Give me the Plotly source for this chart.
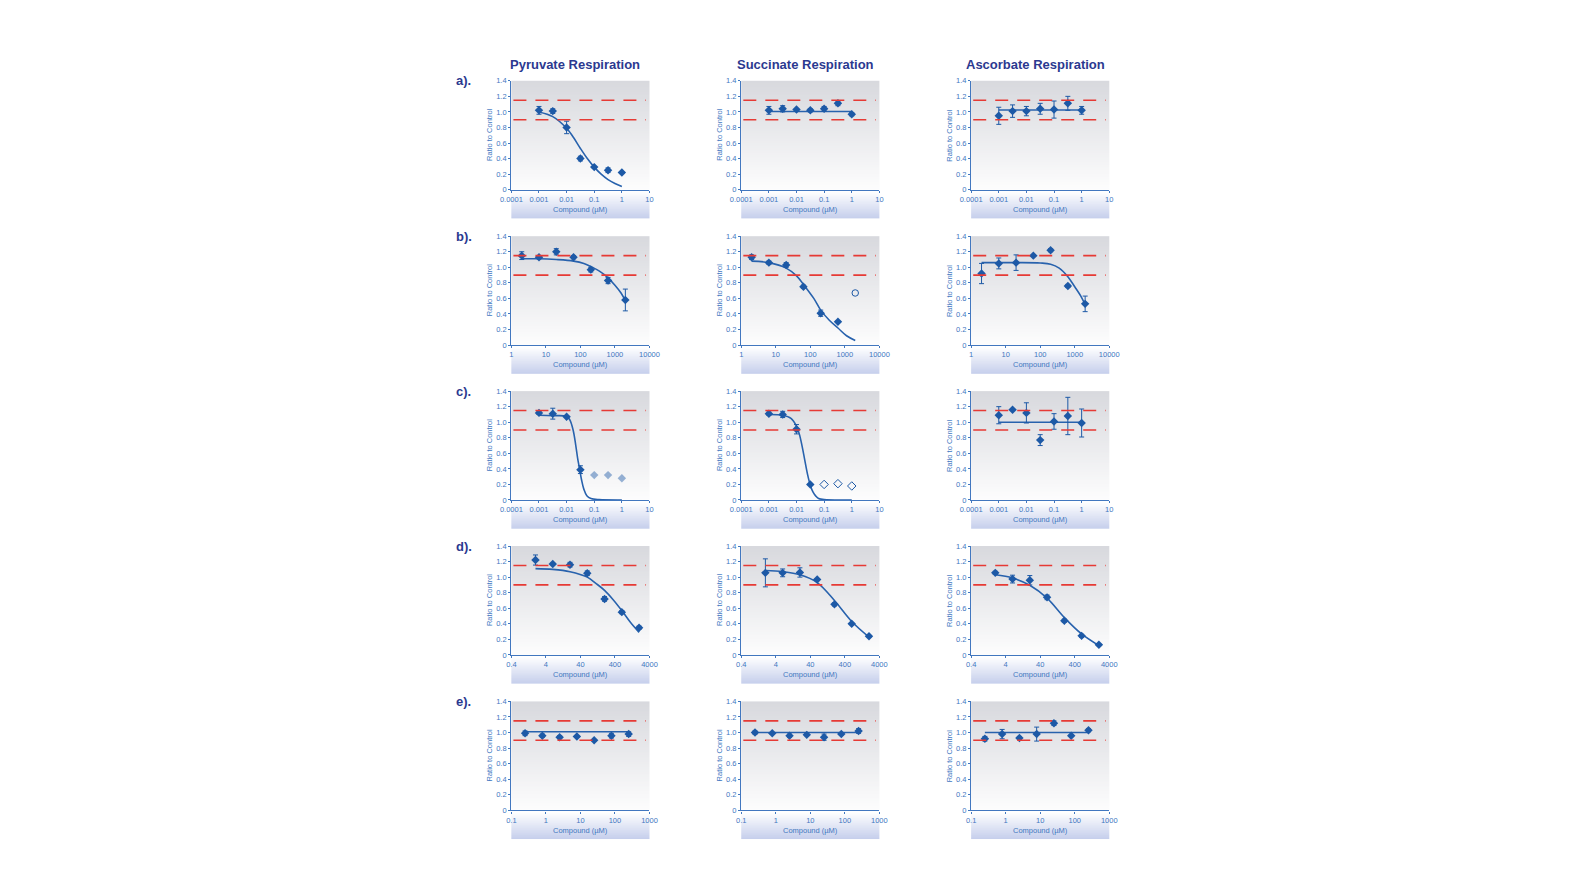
import base64
import math
import struct
import zlib

import plotly.graph_objects as go
from plotly.subplots import make_subplots

W, H = 1576, 887
OFF = 8  # page body margin around the plot div

# ---- concentrations (uM) ----
conc_a = [0.001, 0.00316, 0.01, 0.0316, 0.1, 0.316, 1]
conc_b = [2, 6.32, 20, 63.2, 200, 632, 2000]
conc_e = [0.25, 0.79, 2.5, 7.9, 25, 79, 250]

thresholds = [1.15, 0.9]

# ---- row a ----
pyr_a_y = [1.02, 1.01, 0.80, 0.40, 0.29, 0.25, 0.22]
pyr_a_err = [0.05, 0.03, 0.08, 0.03, 0.01, 0.03, 0.01]
pyr_a_fit_x = [0.001, 0.00316, 0.01, 0.0178, 0.0316, 0.0562, 0.1, 0.178, 0.316, 0.562, 1]
pyr_a_fit_y = [1.00, 0.94, 0.79, 0.67, 0.53, 0.40, 0.29, 0.20, 0.13, 0.08, 0.04]

suc_a_y = [1.02, 1.04, 1.03, 1.02, 1.04, 1.11, 0.97]
suc_a_err = [0.05, 0.04, 0.01, 0.02, 0.03, 0.03, 0.02]
suc_a_fit_x = [0.001, 1]
suc_a_fit_y = [1.005, 1.005]

asc_a_y = [0.95, 1.01, 1.01, 1.04, 1.03, 1.11, 1.02]
asc_a_err = [0.11, 0.08, 0.06, 0.07, 0.11, 0.09, 0.05]
asc_a_fit_x = [0.001, 1]
asc_a_fit_y = [1.025, 1.025]

# ---- row b ----
pyr_b_y = [1.15, 1.13, 1.20, 1.13, 0.97, 0.83, 0.58]
pyr_b_err = [0.05, 0.02, 0.04, 0.02, 0.03, 0.04, 0.14]
pyr_b_fit_x = [2, 6.32, 20, 63.2, 126, 200, 355, 632, 1000, 1500, 2000]
pyr_b_fit_y = [1.11, 1.11, 1.10, 1.08, 1.05, 1.01, 0.95, 0.865, 0.77, 0.67, 0.57]

suc_b_y = [1.13, 1.06, 1.03, 0.75, 0.41, 0.30]
suc_b_err = [0.03, 0.02, 0.03, 0.02, 0.04, 0.01]
suc_b_open_x = [2000]
suc_b_open_y = [0.67]
suc_b_fit_x = [2, 6.32, 20, 40, 63.2, 126, 200, 355, 632, 1120, 2000]
suc_b_fit_y = [1.08, 1.06, 0.99, 0.89, 0.78, 0.60, 0.45, 0.32, 0.22, 0.12, 0.06]

asc_b_y = [0.92, 1.05, 1.06, 1.15, 1.22, 0.76, 0.53]
asc_b_err = [0.13, 0.07, 0.10, 0.01, 0.02, 0.02, 0.10]
asc_b_fit_x = [2, 20, 100, 200, 355, 632, 1000, 1500, 2000]
asc_b_fit_y = [1.06, 1.06, 1.055, 1.04, 0.99, 0.88, 0.75, 0.63, 0.52]

# ---- row c ----
pyr_c_y = [1.12, 1.11, 1.07, 0.39]
pyr_c_err = [0.02, 0.07, 0.01, 0.05]
pyr_c_open_x = [0.1, 0.316, 1]
pyr_c_open_y = [0.32, 0.32, 0.28]
pyr_c_fit_x = [0.001, 0.00316, 0.01, 0.0131, 0.0172, 0.0213, 0.025, 0.0295,
               0.0347, 0.042, 0.054, 0.076, 0.15, 1]
pyr_c_fit_y = [1.09, 1.085, 1.075, 1.03, 0.90, 0.71, 0.54, 0.40,
               0.26, 0.14, 0.055, 0.02, 0.005, 0.0]

suc_c_y = [1.11, 1.10, 0.91, 0.20]
suc_c_err = [0.02, 0.04, 0.06, 0.01]
suc_c_open_x = [0.1, 0.316, 1]
suc_c_open_y = [0.20, 0.21, 0.18]
suc_c_fit_x = [0.001, 0.00316, 0.00631, 0.01, 0.0126, 0.0158, 0.02, 0.0251,
               0.0316, 0.0398, 0.0501, 0.0631, 0.1, 1]
suc_c_fit_y = [1.10, 1.09, 1.05, 0.95, 0.85, 0.70, 0.51, 0.33,
               0.19, 0.10, 0.05, 0.02, 0.005, 0.0]

asc_c_y = [1.09, 1.16, 1.12, 0.77, 1.01, 1.08, 0.99]
asc_c_err = [0.11, 0.01, 0.13, 0.07, 0.10, 0.24, 0.18]
asc_c_fit_x = [0.001, 1]
asc_c_fit_y = [1.0, 1.0]

# ---- row d ----
pyr_d_y = [1.22, 1.17, 1.16, 1.05, 0.72, 0.55, 0.35]
pyr_d_err = [0.065, 0.01, 0.03, 0.03, 0.03, 0.02, 0.02]
pyr_d_fit_x = [2, 6.32, 20, 63.2, 112, 200, 355, 632, 1120, 2000]
pyr_d_fit_y = [1.11, 1.10, 1.07, 1.00, 0.92, 0.83, 0.71, 0.57, 0.42, 0.29]

suc_d_y = [1.055, 1.055, 1.06, 0.97, 0.65, 0.40, 0.24]
suc_d_err = [0.18, 0.05, 0.06, 0.01, 0.02, 0.01, 0.01]
suc_d_fit_x = [2, 6.32, 20, 63.2, 200, 632, 2000]
suc_d_fit_y = [1.085, 1.07, 1.03, 0.93, 0.70, 0.43, 0.23]

asc_d_y = [1.055, 0.975, 0.96, 0.74, 0.44, 0.245, 0.13]
asc_d_err = [0.02, 0.05, 0.06, 0.03, 0.02, 0.02, 0.01]
asc_d_fit_x = [2, 6.32, 20, 63.2, 200, 632, 2000]
asc_d_fit_y = [1.03, 0.99, 0.895, 0.73, 0.48, 0.27, 0.12]

# ---- row e ----
pyr_e_y = [0.99, 0.96, 0.94, 0.95, 0.90, 0.96, 0.98]
pyr_e_err = [0.03, 0.02, 0.02, 0.01, 0.01, 0.03, 0.03]
pyr_e_fit_x = [0.25, 250]
pyr_e_fit_y = [1.01, 1.01]

suc_e_y = [1.00, 0.99, 0.96, 0.97, 0.94, 0.98, 1.02]
suc_e_err = [0.02, 0.01, 0.02, 0.01, 0.04, 0.01, 0.03]
suc_e_fit_x = [0.25, 250]
suc_e_fit_y = [1.0, 1.0]

asc_e_y = [0.92, 0.98, 0.93, 0.98, 1.12, 0.96, 1.03]
asc_e_err = [0.03, 0.06, 0.02, 0.09, 0.03, 0.01, 0.02]
asc_e_fit_x = [0.25, 250]
asc_e_fit_y = [1.0, 1.0]

col_titles = ["Pyruvate Respiration", "Succinate Respiration", "Ascorbate Respiration"]
row_labels = ["a).", "b).", "c).", "d).", "e)."]

x_ranges = [[0.0001, 10], [1, 10000], [0.0001, 10], [0.4, 4000], [0.1, 1000]]
x_ticks = [
    ["0.0001", "0.001", "0.01", "0.1", "1", "10"],
    ["1", "10", "100", "1000", "10000"],
    ["0.0001", "0.001", "0.01", "0.1", "1", "10"],
    ["0.4", "4", "40", "400", "4000"],
    ["0.1", "1", "10", "100", "1000"],
]
y_ticks = ["0", "0.2", "0.4", "0.6", "0.8", "1.0", "1.2", "1.4"]

panels = [
    dict(x=conc_a, y=pyr_a_y, err=pyr_a_err, fx=pyr_a_fit_x, fy=pyr_a_fit_y),
    dict(x=conc_a, y=suc_a_y, err=suc_a_err, fx=suc_a_fit_x, fy=suc_a_fit_y),
    dict(x=conc_a, y=asc_a_y, err=asc_a_err, fx=asc_a_fit_x, fy=asc_a_fit_y),
    dict(x=conc_b, y=pyr_b_y, err=pyr_b_err, fx=pyr_b_fit_x, fy=pyr_b_fit_y),
    dict(x=conc_b[:6], y=suc_b_y, err=suc_b_err, fx=suc_b_fit_x, fy=suc_b_fit_y,
         ox=suc_b_open_x, oy=suc_b_open_y, osym="circle-open"),
    dict(x=conc_b, y=asc_b_y, err=asc_b_err, fx=asc_b_fit_x, fy=asc_b_fit_y),
    dict(x=conc_a[:4], y=pyr_c_y, err=pyr_c_err, fx=pyr_c_fit_x, fy=pyr_c_fit_y,
         ox=pyr_c_open_x, oy=pyr_c_open_y, osym="faded"),
    dict(x=conc_a[:4], y=suc_c_y, err=suc_c_err, fx=suc_c_fit_x, fy=suc_c_fit_y,
         ox=suc_c_open_x, oy=suc_c_open_y, osym="diamond-open"),
    dict(x=conc_a, y=asc_c_y, err=asc_c_err, fx=asc_c_fit_x, fy=asc_c_fit_y),
    dict(x=conc_b, y=pyr_d_y, err=pyr_d_err, fx=pyr_d_fit_x, fy=pyr_d_fit_y),
    dict(x=conc_b, y=suc_d_y, err=suc_d_err, fx=suc_d_fit_x, fy=suc_d_fit_y),
    dict(x=conc_b, y=asc_d_y, err=asc_d_err, fx=asc_d_fit_x, fy=asc_d_fit_y),
    dict(x=conc_e, y=pyr_e_y, err=pyr_e_err, fx=pyr_e_fit_x, fy=pyr_e_fit_y),
    dict(x=conc_e, y=suc_e_y, err=suc_e_err, fx=suc_e_fit_x, fy=suc_e_fit_y),
    dict(x=conc_e, y=asc_e_y, err=asc_e_err, fx=asc_e_fit_x, fy=asc_e_fit_y),
]

# panel placement in screen pixels
col_px = [(507, 647), (740, 880), (973, 1113)]
row_px = [(77.5, 187.5), (234.5, 344.5), (391, 501), (547.5, 657.5), (704.5, 814.5)]

BLUE = "#1d59a6"
AXIS = "#4277bf"
NAVY = "#2b3990"
RED = "#e63a35"
FONT = "Liberation Sans, Arial, sans-serif"


def px_x(v):
    return (v - OFF) / W


def px_y(v):
    return 1 - (v - OFF) / H


def gradient_png(top, bottom, n=64):
    raw = b""
    for i in range(n):
        t = i / (n - 1)
        px = bytes(round(a + (b - a) * t) for a, b in zip(top, bottom))
        raw += b"\x00" + px * 4

    def chunk(tag, data):
        return (struct.pack(">I", len(data)) + tag + data
                + struct.pack(">I", zlib.crc32(tag + data) & 0xffffffff))

    png = (b"\x89PNG\r\n\x1a\n"
           + chunk(b"IHDR", struct.pack(">IIBBBBB", 4, n, 8, 2, 0, 0, 0))
           + chunk(b"IDAT", zlib.compress(raw))
           + chunk(b"IEND", b""))
    return "data:image/png;base64," + base64.b64encode(png).decode()


gray_bg = gradient_png((216, 217, 222), (253, 253, 253))
blue_strip = gradient_png((255, 255, 255), (198, 207, 236))

fig = make_subplots(rows=5, cols=3)

images = []
annotations = []
shapes = []

for k, p in enumerate(panels):
    r, c = divmod(k, 3)
    n = k + 1
    xl, xr = col_px[c]
    yt, yb = row_px[r]

    # fitted curve
    fig.add_trace(go.Scatter(
        x=p["fx"], y=p["fy"], mode="lines",
        line=dict(color="#2862ad", width=1.6, shape="spline", smoothing=1.0),
        hoverinfo="skip", showlegend=False), row=r + 1, col=c + 1)

    # excluded points
    if "ox" in p:
        if p["osym"] == "faded":
            mk = dict(symbol="diamond", size=6.5, color="rgba(29,89,166,0.45)")
        else:
            mk = dict(symbol=p["osym"], size=6.5, color=BLUE, line=dict(width=1, color=BLUE))
        fig.add_trace(go.Scatter(
            x=p["ox"], y=p["oy"], mode="markers", marker=mk,
            showlegend=False), row=r + 1, col=c + 1)

    # data points with error bars
    fig.add_trace(go.Scatter(
        x=p["x"], y=p["y"], mode="markers",
        marker=dict(symbol="diamond", size=6.5, color=BLUE),
        error_y=dict(type="data", array=p["err"], color=BLUE, thickness=1, width=2.5),
        showlegend=False), row=r + 1, col=c + 1)

    lo, hi = x_ranges[r]
    tickvals = [float(t) for t in x_ticks[r]]
    fig.update_xaxes(
        type="log", range=[math.log10(lo), math.log10(hi)],
        domain=[px_x(xl), px_x(xr)],
        tickvals=tickvals, ticktext=x_ticks[r],
        showline=True, linecolor=AXIS, linewidth=1.4,
        ticks="outside", ticklen=2, tickcolor=AXIS, tickwidth=1,
        tickfont=dict(size=7.5, color=AXIS, family=FONT),
        showgrid=False, zeroline=False,
        row=r + 1, col=c + 1)
    fig.update_yaxes(
        range=[0, 1.4], domain=[px_y(yb), px_y(yt)],
        tickvals=[0, 0.2, 0.4, 0.6, 0.8, 1.0, 1.2, 1.4], ticktext=y_ticks,
        showline=True, linecolor=AXIS, linewidth=1.4,
        ticks="outside", ticklen=2, tickcolor=AXIS, tickwidth=1,
        tickfont=dict(size=7.5, color=AXIS, family=FONT),
        showgrid=False, zeroline=False,
        row=r + 1, col=c + 1)

    # threshold lines
    xname = "x" if n == 1 else f"x{n}"
    yname = "y" if n == 1 else f"y{n}"
    for t in thresholds:
        shapes.append(dict(
            type="line", xref=f"{xname} domain", yref=yname,
            x0=0.015, x1=0.975, y0=t, y1=t,
            line=dict(color=RED, width=1.6, dash="13px,9px"), layer="above"))

    # panel backgrounds
    images.append(dict(source=gray_bg, xref="paper", yref="paper",
                       x=px_x(xl), y=px_y(yt), sizex=(xr - xl) / W, sizey=(yb - yt) / H,
                       xanchor="left", yanchor="top", sizing="stretch", layer="below"))
    images.append(dict(source=blue_strip, xref="paper", yref="paper",
                       x=px_x(xl), y=px_y(yb + 2), sizex=(xr - xl) / W, sizey=27 / H,
                       xanchor="left", yanchor="top", sizing="stretch", layer="below"))

    # axis titles
    annotations.append(dict(
        text="Ratio to Control", textangle=-90, xref="paper", yref="paper",
        x=px_x(xl - 22), y=px_y((yt + yb) / 2), xanchor="center", yanchor="middle",
        showarrow=False, font=dict(size=7.5, color=AXIS, family=FONT)))
    annotations.append(dict(
        text="Compound (µM)", xref="paper", yref="paper",
        x=px_x((xl + xr) / 2), y=px_y(yb + 20), xanchor="center", yanchor="middle",
        showarrow=False, font=dict(size=7.5, color=AXIS, family=FONT)))

for c, title in enumerate(col_titles):
    xl, xr = col_px[c]
    annotations.append(dict(
        text=f"<b>{title}</b>", xref="paper", yref="paper",
        x=px_x((xl + xr) / 2 - 5), y=px_y(61), xanchor="center", yanchor="middle",
        showarrow=False, font=dict(size=13, color=NAVY, family=FONT)))

for r, lab in enumerate(row_labels):
    annotations.append(dict(
        text=f"<b>{lab}</b>", xref="paper", yref="paper",
        x=px_x(459), y=px_y(row_px[r][0]), xanchor="center", yanchor="middle",
        showarrow=False, font=dict(size=13, color=NAVY, family=FONT)))

fig.update_layout(
    width=W, height=H,
    margin=dict(l=0, r=0, t=0, b=0),
    paper_bgcolor="white",
    plot_bgcolor="rgba(0,0,0,0)",
    showlegend=False,
    images=images,
    annotations=annotations,
    shapes=shapes,
    font=dict(family=FONT),
)

fig.write_html("out.html")
